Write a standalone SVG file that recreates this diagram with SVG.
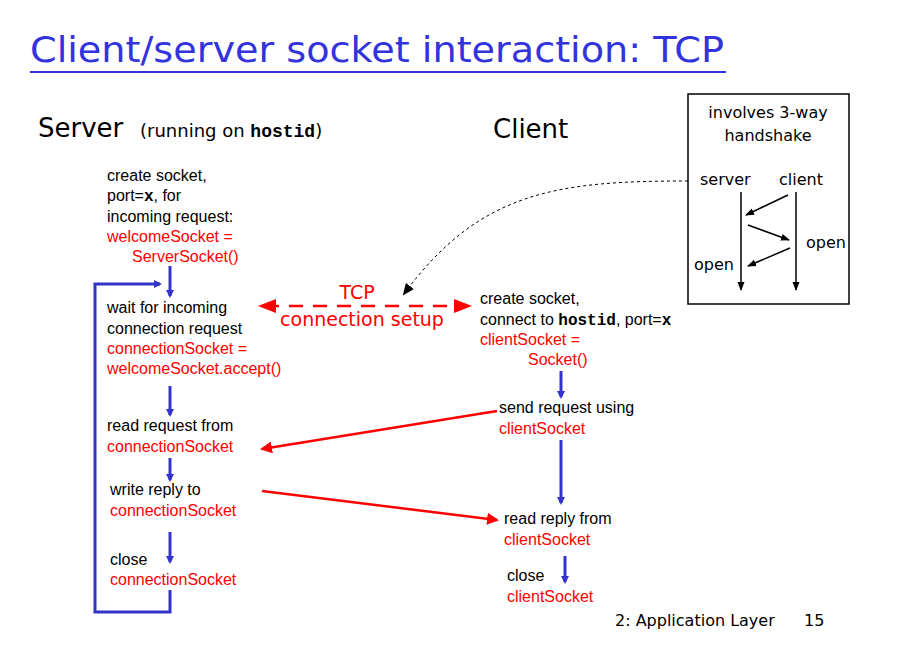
<svg xmlns="http://www.w3.org/2000/svg" width="899" height="664" viewBox="0 0 899 664">
<style>
.t{font-family:"Liberation Sans",Arial,sans-serif;font-size:16px;fill:#000}
.c{font-family:"DejaVu Sans",sans-serif;fill:#000}
.r{fill:#f00}
.b{stroke:#3333cc;stroke-width:3;fill:none}
.rd{stroke:#f00;stroke-width:2.5;fill:none}
.k{stroke:#000;stroke-width:1.5;fill:none}
.m{font-family:"Liberation Mono",monospace;font-weight:bold}
</style>
<defs>
<marker id="ab" markerWidth="8" markerHeight="8" refX="6" refY="4" orient="auto" markerUnits="userSpaceOnUse" viewBox="0 0 8 8"><path d="M0,0L8,4L0,8z" fill="#3333cc"/></marker>
<marker id="ar" markerWidth="12" markerHeight="12" refX="10" refY="6" orient="auto" markerUnits="userSpaceOnUse"><path d="M0,0L12,6L0,12z" fill="#f00"/></marker>
<marker id="ak" markerWidth="12" markerHeight="12" refX="10" refY="6" orient="auto" markerUnits="userSpaceOnUse"><path d="M0,1L12,6L0,11z" fill="#000"/></marker>
<marker id="as" markerWidth="9" markerHeight="9" refX="8" refY="4.5" orient="auto" markerUnits="userSpaceOnUse"><path d="M0,1L9,4.5L0,8z" fill="#000"/></marker>
</defs>
<rect width="899" height="664" fill="#fff"/>
<text x="30" y="62" font-family="DejaVu Sans,sans-serif" font-size="36" fill="#3333dd" textLength="694" lengthAdjust="spacingAndGlyphs">Client/server socket interaction: TCP</text>
<line x1="30" y1="72" x2="726" y2="72" stroke="#3333dd" stroke-width="2"/>
<g id="server-title"><text x="38" y="137" class="c" font-size="26">Server</text><text x="140" y="137" class="c" font-size="18">(running on <tspan class="m">hostid</tspan>)</text></g>
<g id="client-title"><text x="493" y="138" class="c" font-size="26">Client</text></g>
<g id="handshake">
<rect x="688" y="94" width="161" height="210" fill="#fff" stroke="#000" stroke-width="1.5"/>
<text x="768" y="118" class="c" font-size="16" text-anchor="middle">involves 3-way</text>
<text x="768" y="141" class="c" font-size="16" text-anchor="middle">handshake</text>
<text x="700" y="185" class="c" font-size="16">server</text>
<text x="779" y="185" class="c" font-size="16">client</text>
<line x1="741" y1="192" x2="741" y2="290" class="k" marker-end="url(#as)"/>
<line x1="796" y1="192" x2="796" y2="290" class="k" marker-end="url(#as)"/>
<line x1="788" y1="195" x2="746" y2="215" class="k" marker-end="url(#as)"/>
<line x1="748" y1="225" x2="789" y2="240" class="k" marker-end="url(#as)"/>
<line x1="790" y1="248" x2="748" y2="266" class="k" marker-end="url(#as)"/>
<text x="806" y="248" class="c" font-size="16">open</text>
<text x="694" y="270" class="c" font-size="16">open</text>
</g>
<g id="connectors">
<path d="M688,181 C560,181 480,190 404,294" stroke="#000" stroke-width="1" stroke-dasharray="3,3" fill="none" marker-end="url(#ak)"/>
<line x1="265" y1="306" x2="468" y2="306" class="rd" stroke-width="4" stroke-dasharray="14,10"/>
<path d="M258,306L276,299L276,313z" fill="#f00"/><path d="M472,306L454,299L454,313z" fill="#f00"/>
<line x1="170" y1="266" x2="170" y2="296" class="b" marker-end="url(#ab)"/>
<line x1="170" y1="386" x2="170" y2="415" class="b" marker-end="url(#ab)"/>
<line x1="170" y1="458" x2="170" y2="480" class="b" marker-end="url(#ab)"/>
<line x1="170" y1="532" x2="170" y2="562" class="b" marker-end="url(#ab)"/>
<path d="M170,590 V612 H95 V284 H160" class="b" marker-end="url(#ab)"/>
<line x1="561" y1="371" x2="561" y2="397" class="b" marker-end="url(#ab)"/>
<line x1="561" y1="440" x2="561" y2="503" class="b" marker-end="url(#ab)"/>
<line x1="565" y1="556" x2="565" y2="582" class="b" marker-end="url(#ab)"/>
<line x1="497" y1="411" x2="262" y2="449" class="rd" marker-end="url(#ar)"/>
<line x1="262" y1="491" x2="497" y2="520" class="rd" marker-end="url(#ar)"/>
</g>
<g id="tcp-label"><text x="357" y="299" class="c r" font-size="19" text-anchor="middle">TCP</text><text x="362" y="326" class="c r" font-size="19" text-anchor="middle">connection setup</text></g>
<g id="s-create"><text class="t" x="107" y="181">create socket,</text><text class="t" x="107" y="201">port=<tspan class="m">x</tspan>, for</text><text class="t" x="107" y="222">incoming request:</text><text class="t r" x="107" y="242">welcomeSocket =</text><text class="t r" x="132" y="262">ServerSocket()</text></g>
<g id="s-wait"><text class="t" x="107" y="313">wait for incoming</text><text class="t" x="107" y="334">connection request</text><text class="t r" x="107" y="354">connectionSocket =</text><text class="t r" x="107" y="374">welcomeSocket.accept()</text></g>
<g id="s-read"><text class="t" x="107" y="431">read request from</text><text class="t r" x="107" y="452">connectionSocket</text></g>
<g id="s-write"><text class="t" x="110" y="495">write reply to</text><text class="t r" x="110" y="516">connectionSocket</text></g>
<g id="s-close"><text class="t" x="110" y="565">close</text><text class="t r" x="110" y="585">connectionSocket</text></g>
<g id="c-create"><text class="t" x="480" y="304">create socket,</text><text class="t" x="480" y="325">connect to <tspan class="m">hostid</tspan>, port=<tspan class="m">x</tspan></text><text class="t r" x="480" y="345">clientSocket =</text><text class="t r" x="528" y="365">Socket()</text></g>
<g id="c-send"><text class="t" x="499" y="413">send request using</text><text class="t r" x="499" y="434">clientSocket</text></g>
<g id="c-read"><text class="t" x="504" y="524">read reply from</text><text class="t r" x="504" y="545">clientSocket</text></g>
<g id="c-close"><text class="t" x="507" y="581">close</text><text class="t r" x="507" y="602">clientSocket</text></g>
<text x="615" y="626" class="c" font-size="16">2: Application Layer</text><text x="804" y="626" class="c" font-size="16">15</text>
</svg>
